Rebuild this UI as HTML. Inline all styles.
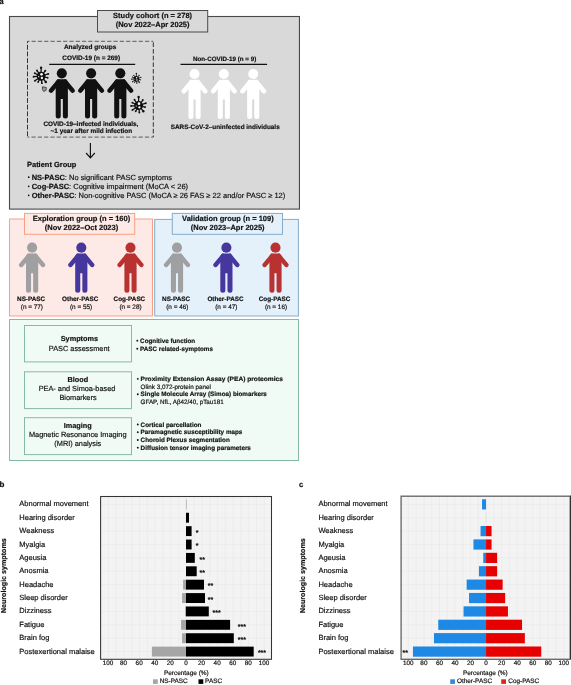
<!DOCTYPE html>
<html lang="en"><head><meta charset="utf-8"><title>Study cohort figure</title>
<style>html,body{margin:0;padding:0;background:#fff;overflow:hidden}svg{display:block}text{font-family:"Liberation Sans",Arial,Helvetica,sans-serif;text-rendering:geometricPrecision;stroke:#111;stroke-width:0.18px}</style></head><body>
<svg width="571" height="685" viewBox="0 0 571 685">
<rect width="571" height="685" fill="#fff"/>
<text x="-0.7" y="3.9" font-size="8" font-weight="bold" fill="#111">a</text>
<rect x="9.5" y="16.5" width="289.95" height="192.6" fill="#d9d9d9" stroke="#4a4a4a" stroke-width="1.1"/>
<rect x="97.5" y="10.5" width="110.2" height="21.5" fill="#d9d9d9" stroke="#4a4a4a" stroke-width="1"/>
<text x="152.6" y="18.4" font-size="7.5" font-weight="bold" text-anchor="middle" fill="#111">Study cohort (n = 278)</text>
<text x="152.6" y="27.4" font-size="7.5" font-weight="bold" text-anchor="middle" fill="#111">(Nov 2022–Apr 2025)</text>
<g fill="none" stroke-width="1"><path d="M27.5,41.3 H153.3" stroke="#5c5c5c" stroke-dasharray="4.2 2.1" stroke-dashoffset="2.2"/><path d="M153.3,137.1 H27.5" stroke="#5c5c5c" stroke-dasharray="4.2 2.1" stroke-dashoffset="2.1"/><path d="M27.5,41.3 V137.1" stroke="#333" stroke-dasharray="4.9 1.75" stroke-dashoffset="3.1"/><path d="M153.3,41.3 V137.1" stroke="#333" stroke-dasharray="4.6 2.05" stroke-dashoffset="5.55"/></g>
<text x="90.1" y="48.5" font-size="6.5" font-weight="bold" text-anchor="middle" fill="#111">Analyzed groups</text>
<text x="91.2" y="59.6" font-size="6.45" font-weight="bold" text-anchor="middle" fill="#111">COVID-19 (n = 269)</text>
<line x1="49.2" y1="64.4" x2="135.2" y2="64.4" stroke="#111" stroke-width="1.1"/>
<g transform="translate(61.8,68.3) scale(1.0)" fill="#111" stroke="none"><circle cx="0" cy="5.05" r="5.05"/><path d="M-6.1,13.4 L-4.3,10.9 L4.3,10.9 L6.1,13.4 L6.1,47.75 A2.525,2.525 0 0 1 1.05,47.75 L1.05,30.6 L-1.05,30.6 L-1.05,47.75 A2.525,2.525 0 0 1 -6.1,47.75 Z"/><path d="M-3.3,13.3 L-10.8,22.3 M3.3,13.3 L10.8,22.3" stroke="#111" stroke-width="4.6" stroke-linecap="round" fill="none"/></g>
<g transform="translate(91.1,68.3) scale(1.0)" fill="#111" stroke="none"><circle cx="0" cy="5.05" r="5.05"/><path d="M-6.1,13.4 L-4.3,10.9 L4.3,10.9 L6.1,13.4 L6.1,47.75 A2.525,2.525 0 0 1 1.05,47.75 L1.05,30.6 L-1.05,30.6 L-1.05,47.75 A2.525,2.525 0 0 1 -6.1,47.75 Z"/><path d="M-3.3,13.3 L-10.8,22.3 M3.3,13.3 L10.8,22.3" stroke="#111" stroke-width="4.6" stroke-linecap="round" fill="none"/></g>
<g transform="translate(120.3,68.3) scale(1.0)" fill="#111" stroke="none"><circle cx="0" cy="5.05" r="5.05"/><path d="M-6.1,13.4 L-4.3,10.9 L4.3,10.9 L6.1,13.4 L6.1,47.75 A2.525,2.525 0 0 1 1.05,47.75 L1.05,30.6 L-1.05,30.6 L-1.05,47.75 A2.525,2.525 0 0 1 -6.1,47.75 Z"/><path d="M-3.3,13.3 L-10.8,22.3 M3.3,13.3 L10.8,22.3" stroke="#111" stroke-width="4.6" stroke-linecap="round" fill="none"/></g>
<g transform="translate(41.1,76.3) scale(1.0)" fill="#111" stroke="#111"><circle r="4.5" stroke="none"/><line x1="0.00" y1="-3.20" x2="0.00" y2="-8.60" stroke-width="1.25"/><circle cx="0.00" cy="-8.60" r="1.2" stroke="none"/><line x1="1.93" y1="-2.56" x2="4.21" y2="-5.59" stroke-width="1.25"/><circle cx="4.21" cy="-5.59" r="0.95" stroke="none"/><line x1="3.03" y1="-1.02" x2="7.20" y2="-2.42" stroke-width="1.25"/><circle cx="7.20" cy="-2.42" r="0.95" stroke="none"/><line x1="3.12" y1="0.70" x2="6.54" y2="1.46" stroke-width="1.25"/><circle cx="6.54" cy="1.46" r="0.9" stroke="none"/><line x1="2.06" y1="2.45" x2="4.69" y2="5.59" stroke-width="1.25"/><circle cx="4.69" cy="5.59" r="1.25" stroke="none"/><line x1="0.36" y1="3.18" x2="0.77" y2="6.86" stroke-width="1.25"/><circle cx="0.77" cy="6.86" r="0.95" stroke="none"/><line x1="-1.45" y1="2.85" x2="-2.91" y2="5.70" stroke-width="1.25"/><circle cx="-2.91" cy="5.70" r="0.9" stroke="none"/><line x1="-2.58" y1="1.89" x2="-6.13" y2="4.50" stroke-width="1.25"/><circle cx="-6.13" cy="4.50" r="1.0" stroke="none"/><line x1="-3.20" y1="0.17" x2="-7.49" y2="0.39" stroke-width="1.25"/><circle cx="-7.49" cy="0.39" r="1.0" stroke="none"/><line x1="-2.89" y1="-1.37" x2="-6.32" y2="-3.00" stroke-width="1.25"/><circle cx="-6.32" cy="-3.00" r="0.95" stroke="none"/><line x1="-1.86" y1="-2.61" x2="-4.12" y2="-5.78" stroke-width="1.25"/><circle cx="-4.12" cy="-5.78" r="0.95" stroke="none"/><circle cx="0.42" cy="-1.95" r="1.3" fill="#fff" stroke="none"/><circle cx="0.8" cy="1.7" r="1.15" fill="#fff" stroke="none"/><circle cx="-2.4" cy="0.4" r="0.6" fill="#fff" stroke="none"/></g>
<g transform="translate(136.4,78.9) scale(0.62)" fill="#111" stroke="#111"><circle r="4.5" stroke="none"/><line x1="0.00" y1="-3.20" x2="0.00" y2="-8.60" stroke-width="1.25"/><circle cx="0.00" cy="-8.60" r="1.2" stroke="none"/><line x1="1.93" y1="-2.56" x2="4.21" y2="-5.59" stroke-width="1.25"/><circle cx="4.21" cy="-5.59" r="0.95" stroke="none"/><line x1="3.03" y1="-1.02" x2="7.20" y2="-2.42" stroke-width="1.25"/><circle cx="7.20" cy="-2.42" r="0.95" stroke="none"/><line x1="3.12" y1="0.70" x2="6.54" y2="1.46" stroke-width="1.25"/><circle cx="6.54" cy="1.46" r="0.9" stroke="none"/><line x1="2.06" y1="2.45" x2="4.69" y2="5.59" stroke-width="1.25"/><circle cx="4.69" cy="5.59" r="1.25" stroke="none"/><line x1="0.36" y1="3.18" x2="0.77" y2="6.86" stroke-width="1.25"/><circle cx="0.77" cy="6.86" r="0.95" stroke="none"/><line x1="-1.45" y1="2.85" x2="-2.91" y2="5.70" stroke-width="1.25"/><circle cx="-2.91" cy="5.70" r="0.9" stroke="none"/><line x1="-2.58" y1="1.89" x2="-6.13" y2="4.50" stroke-width="1.25"/><circle cx="-6.13" cy="4.50" r="1.0" stroke="none"/><line x1="-3.20" y1="0.17" x2="-7.49" y2="0.39" stroke-width="1.25"/><circle cx="-7.49" cy="0.39" r="1.0" stroke="none"/><line x1="-2.89" y1="-1.37" x2="-6.32" y2="-3.00" stroke-width="1.25"/><circle cx="-6.32" cy="-3.00" r="0.95" stroke="none"/><line x1="-1.86" y1="-2.61" x2="-4.12" y2="-5.78" stroke-width="1.25"/><circle cx="-4.12" cy="-5.78" r="0.95" stroke="none"/><circle cx="0.42" cy="-1.95" r="1.3" fill="#fff" stroke="none"/><circle cx="0.8" cy="1.7" r="1.15" fill="#fff" stroke="none"/><circle cx="-2.4" cy="0.4" r="0.6" fill="#fff" stroke="none"/></g>
<g transform="translate(138.6,105.6) scale(1.0)" fill="#111" stroke="#111"><circle r="4.5" stroke="none"/><line x1="0.00" y1="-3.20" x2="0.00" y2="-8.60" stroke-width="1.25"/><circle cx="0.00" cy="-8.60" r="1.2" stroke="none"/><line x1="1.93" y1="-2.56" x2="4.21" y2="-5.59" stroke-width="1.25"/><circle cx="4.21" cy="-5.59" r="0.95" stroke="none"/><line x1="3.03" y1="-1.02" x2="7.20" y2="-2.42" stroke-width="1.25"/><circle cx="7.20" cy="-2.42" r="0.95" stroke="none"/><line x1="3.12" y1="0.70" x2="6.54" y2="1.46" stroke-width="1.25"/><circle cx="6.54" cy="1.46" r="0.9" stroke="none"/><line x1="2.06" y1="2.45" x2="4.69" y2="5.59" stroke-width="1.25"/><circle cx="4.69" cy="5.59" r="1.25" stroke="none"/><line x1="0.36" y1="3.18" x2="0.77" y2="6.86" stroke-width="1.25"/><circle cx="0.77" cy="6.86" r="0.95" stroke="none"/><line x1="-1.45" y1="2.85" x2="-2.91" y2="5.70" stroke-width="1.25"/><circle cx="-2.91" cy="5.70" r="0.9" stroke="none"/><line x1="-2.58" y1="1.89" x2="-6.13" y2="4.50" stroke-width="1.25"/><circle cx="-6.13" cy="4.50" r="1.0" stroke="none"/><line x1="-3.20" y1="0.17" x2="-7.49" y2="0.39" stroke-width="1.25"/><circle cx="-7.49" cy="0.39" r="1.0" stroke="none"/><line x1="-2.89" y1="-1.37" x2="-6.32" y2="-3.00" stroke-width="1.25"/><circle cx="-6.32" cy="-3.00" r="0.95" stroke="none"/><line x1="-1.86" y1="-2.61" x2="-4.12" y2="-5.78" stroke-width="1.25"/><circle cx="-4.12" cy="-5.78" r="0.95" stroke="none"/><circle cx="0.42" cy="-1.95" r="1.3" fill="#fff" stroke="none"/><circle cx="0.8" cy="1.7" r="1.15" fill="#fff" stroke="none"/><circle cx="-2.4" cy="0.4" r="0.6" fill="#fff" stroke="none"/></g>
<path d="M42.4,86.8 L46.3,87.5 L46.1,90.3 L43.7,91.5 L42.5,89.7 Z" fill="#9a9a9a" stroke="#3c3c3c" stroke-width="0.85" stroke-linejoin="round"/>
<text x="90.9" y="125.5" font-size="6.43" font-weight="bold" text-anchor="middle" fill="#111">COVID-19–infected individuals,</text>
<text x="91.4" y="133.3" font-size="6.43" font-weight="bold" text-anchor="middle" fill="#111">~1 year after mild infection</text>
<text x="224.6" y="60.9" font-size="6.25" font-weight="bold" text-anchor="middle" fill="#111">Non-COVID-19 (n = 9)</text>
<line x1="180.5" y1="64.4" x2="267.1" y2="64.4" stroke="#111" stroke-width="1.1"/>
<g transform="translate(194.55,68.95) scale(0.996)" fill="#fff" stroke="none"><circle cx="0" cy="5.05" r="5.05"/><path d="M-6.1,13.4 L-4.3,10.9 L4.3,10.9 L6.1,13.4 L6.1,47.75 A2.525,2.525 0 0 1 1.05,47.75 L1.05,30.6 L-1.05,30.6 L-1.05,47.75 A2.525,2.525 0 0 1 -6.1,47.75 Z"/><path d="M-3.3,13.3 L-10.8,22.3 M3.3,13.3 L10.8,22.3" stroke="#fff" stroke-width="4.6" stroke-linecap="round" fill="none"/></g>
<g transform="translate(223.85,68.95) scale(0.996)" fill="#fff" stroke="none"><circle cx="0" cy="5.05" r="5.05"/><path d="M-6.1,13.4 L-4.3,10.9 L4.3,10.9 L6.1,13.4 L6.1,47.75 A2.525,2.525 0 0 1 1.05,47.75 L1.05,30.6 L-1.05,30.6 L-1.05,47.75 A2.525,2.525 0 0 1 -6.1,47.75 Z"/><path d="M-3.3,13.3 L-10.8,22.3 M3.3,13.3 L10.8,22.3" stroke="#fff" stroke-width="4.6" stroke-linecap="round" fill="none"/></g>
<g transform="translate(253.2,68.95) scale(0.996)" fill="#fff" stroke="none"><circle cx="0" cy="5.05" r="5.05"/><path d="M-6.1,13.4 L-4.3,10.9 L4.3,10.9 L6.1,13.4 L6.1,47.75 A2.525,2.525 0 0 1 1.05,47.75 L1.05,30.6 L-1.05,30.6 L-1.05,47.75 A2.525,2.525 0 0 1 -6.1,47.75 Z"/><path d="M-3.3,13.3 L-10.8,22.3 M3.3,13.3 L10.8,22.3" stroke="#fff" stroke-width="4.6" stroke-linecap="round" fill="none"/></g>
<text x="225.2" y="129.3" font-size="6.4" font-weight="bold" text-anchor="middle" fill="#111">SARS-CoV-2–uninfected individuals</text>
<path d="M90.4,142.9 L90.4,157.6 M86.1,153.0 L90.4,157.9 L94.8,153.0" fill="none" stroke="#111" stroke-width="1.15" stroke-linejoin="miter"/>
<text x="27" y="166.8" font-size="7.48" font-weight="bold" fill="#111">Patient Group</text>
<circle cx="28.7" cy="177.2" r="0.85" fill="#111"/>
<text x="31.7" y="179.7" font-size="7.5" fill="#111" textLength="140.3" lengthAdjust="spacingAndGlyphs"><tspan font-weight="bold">NS-PASC</tspan>: No significant PASC symptoms</text>
<circle cx="28.7" cy="186.3" r="0.85" fill="#111"/>
<text x="31.7" y="188.8" font-size="7.5" fill="#111" textLength="156.4" lengthAdjust="spacingAndGlyphs"><tspan font-weight="bold">Cog-PASC</tspan>: Cognitive impairment (MoCA &lt; 26)</text>
<circle cx="28.7" cy="195.3" r="0.85" fill="#111"/>
<text x="31.7" y="197.8" font-size="7.5" fill="#111" textLength="253.6" lengthAdjust="spacingAndGlyphs"><tspan font-weight="bold">Other-PASC</tspan>: Non-cognitive PASC (MoCA ≥ 26 FAS ≥ 22 and/or PASC ≥ 12)</text>
<rect x="9.5" y="219.0" width="143" height="97.0" fill="#fde9e5" stroke="#fa9f83" stroke-width="1"/>
<rect x="24.5" y="213.4" width="110.2" height="20.9" fill="#fde9e5" stroke="#fa9f83" stroke-width="1"/>
<text x="81.5" y="220.8" font-size="7.5" font-weight="bold" text-anchor="middle" fill="#111">Exploration group (n = 160)</text>
<text x="81.5" y="229.8" font-size="7.5" font-weight="bold" text-anchor="middle" fill="#111">(Nov 2022–Oct 2023)</text>
<rect x="154.7" y="219.4" width="143.7" height="96.6" fill="#e4f1fb" stroke="#86acc9" stroke-width="1"/>
<rect x="172.3" y="213.4" width="110.2" height="20.9" fill="#e4f1fb" stroke="#86acc9" stroke-width="1"/>
<text x="227.9" y="220.8" font-size="7.52" font-weight="bold" text-anchor="middle" fill="#111">Validation group (n = 109)</text>
<text x="227.7" y="229.8" font-size="7.5" font-weight="bold" text-anchor="middle" fill="#111">(Nov 2023–Apr 2025)</text>
<g transform="translate(32.1,242.6) scale(1.0)" fill="#a09fa2" stroke="none"><circle cx="0" cy="5.05" r="5.05"/><path d="M-6.1,13.4 L-4.3,10.9 L4.3,10.9 L6.1,13.4 L6.1,47.75 A2.525,2.525 0 0 1 1.05,47.75 L1.05,30.6 L-1.05,30.6 L-1.05,47.75 A2.525,2.525 0 0 1 -6.1,47.75 Z"/><path d="M-3.3,13.3 L-10.8,22.3 M3.3,13.3 L10.8,22.3" stroke="#a09fa2" stroke-width="4.6" stroke-linecap="round" fill="none"/></g>
<g transform="translate(81.3,242.6) scale(1.0)" fill="#46379f" stroke="none"><circle cx="0" cy="5.05" r="5.05"/><path d="M-6.1,13.4 L-4.3,10.9 L4.3,10.9 L6.1,13.4 L6.1,47.75 A2.525,2.525 0 0 1 1.05,47.75 L1.05,30.6 L-1.05,30.6 L-1.05,47.75 A2.525,2.525 0 0 1 -6.1,47.75 Z"/><path d="M-3.3,13.3 L-10.8,22.3 M3.3,13.3 L10.8,22.3" stroke="#46379f" stroke-width="4.6" stroke-linecap="round" fill="none"/></g>
<g transform="translate(130.5,242.6) scale(1.0)" fill="#b83232" stroke="none"><circle cx="0" cy="5.05" r="5.05"/><path d="M-6.1,13.4 L-4.3,10.9 L4.3,10.9 L6.1,13.4 L6.1,47.75 A2.525,2.525 0 0 1 1.05,47.75 L1.05,30.6 L-1.05,30.6 L-1.05,47.75 A2.525,2.525 0 0 1 -6.1,47.75 Z"/><path d="M-3.3,13.3 L-10.8,22.3 M3.3,13.3 L10.8,22.3" stroke="#b83232" stroke-width="4.6" stroke-linecap="round" fill="none"/></g>
<g transform="translate(177.0,242.6) scale(1.0)" fill="#a09fa2" stroke="none"><circle cx="0" cy="5.05" r="5.05"/><path d="M-6.1,13.4 L-4.3,10.9 L4.3,10.9 L6.1,13.4 L6.1,47.75 A2.525,2.525 0 0 1 1.05,47.75 L1.05,30.6 L-1.05,30.6 L-1.05,47.75 A2.525,2.525 0 0 1 -6.1,47.75 Z"/><path d="M-3.3,13.3 L-10.8,22.3 M3.3,13.3 L10.8,22.3" stroke="#a09fa2" stroke-width="4.6" stroke-linecap="round" fill="none"/></g>
<g transform="translate(226.4,242.6) scale(1.0)" fill="#46379f" stroke="none"><circle cx="0" cy="5.05" r="5.05"/><path d="M-6.1,13.4 L-4.3,10.9 L4.3,10.9 L6.1,13.4 L6.1,47.75 A2.525,2.525 0 0 1 1.05,47.75 L1.05,30.6 L-1.05,30.6 L-1.05,47.75 A2.525,2.525 0 0 1 -6.1,47.75 Z"/><path d="M-3.3,13.3 L-10.8,22.3 M3.3,13.3 L10.8,22.3" stroke="#46379f" stroke-width="4.6" stroke-linecap="round" fill="none"/></g>
<g transform="translate(275.5,242.6) scale(1.0)" fill="#b83232" stroke="none"><circle cx="0" cy="5.05" r="5.05"/><path d="M-6.1,13.4 L-4.3,10.9 L4.3,10.9 L6.1,13.4 L6.1,47.75 A2.525,2.525 0 0 1 1.05,47.75 L1.05,30.6 L-1.05,30.6 L-1.05,47.75 A2.525,2.525 0 0 1 -6.1,47.75 Z"/><path d="M-3.3,13.3 L-10.8,22.3 M3.3,13.3 L10.8,22.3" stroke="#b83232" stroke-width="4.6" stroke-linecap="round" fill="none"/></g>
<text x="31.1" y="300.9" font-size="6.35" font-weight="bold" text-anchor="middle" fill="#111">NS-PASC</text>
<text x="31.9" y="308.8" font-size="6.4" text-anchor="middle" fill="#111">(n = 77)</text>
<text x="80.2" y="300.9" font-size="6.35" font-weight="bold" text-anchor="middle" fill="#111">Other-PASC</text>
<text x="81.1" y="308.8" font-size="6.4" text-anchor="middle" fill="#111">(n = 55)</text>
<text x="129.4" y="300.9" font-size="6.35" font-weight="bold" text-anchor="middle" fill="#111">Cog-PASC</text>
<text x="130.5" y="308.8" font-size="6.4" text-anchor="middle" fill="#111">(n = 28)</text>
<text x="176.1" y="300.9" font-size="6.35" font-weight="bold" text-anchor="middle" fill="#111">NS-PASC</text>
<text x="177.3" y="308.8" font-size="6.4" text-anchor="middle" fill="#111">(n = 46)</text>
<text x="225.5" y="300.9" font-size="6.35" font-weight="bold" text-anchor="middle" fill="#111">Other-PASC</text>
<text x="226.3" y="308.8" font-size="6.4" text-anchor="middle" fill="#111">(n = 47)</text>
<text x="274.6" y="300.9" font-size="6.35" font-weight="bold" text-anchor="middle" fill="#111">Cog-PASC</text>
<text x="276.0" y="308.8" font-size="6.4" text-anchor="middle" fill="#111">(n = 16)</text>
<rect x="9.5" y="319.5" width="289" height="141" fill="#f1fbf6" stroke="#85baa4" stroke-width="1"/>
<rect x="24.5" y="325.5" width="107" height="36.4" fill="#f1fbf6" stroke="#85baa4" stroke-width="1"/>
<rect x="24.5" y="371.8" width="107" height="36.8" fill="#f1fbf6" stroke="#85baa4" stroke-width="1"/>
<rect x="24.5" y="417.7" width="107" height="36.9" fill="#f1fbf6" stroke="#85baa4" stroke-width="1"/>
<text x="79.4" y="341.4" font-size="7.3" font-weight="bold" text-anchor="middle" fill="#111">Symptoms</text>
<text x="79.2" y="350.5" font-size="7.35" text-anchor="middle" fill="#111">PASC assessment</text>
<text x="77.9" y="381.9" font-size="7.3" font-weight="bold" text-anchor="middle" fill="#111">Blood</text>
<text x="77" y="390.6" font-size="7.35" text-anchor="middle" fill="#111">PEA- and Simoa-based</text>
<text x="78" y="399.5" font-size="7.35" text-anchor="middle" fill="#111">Biomarkers</text>
<text x="77.8" y="427.5" font-size="7.3" font-weight="bold" text-anchor="middle" fill="#111">Imaging</text>
<text x="77.7" y="436.85" font-size="7.38" text-anchor="middle" fill="#111">Magnetic Resonance Imaging</text>
<text x="77.8" y="445.6" font-size="7.35" text-anchor="middle" fill="#111">(MRI) analysis</text>
<circle cx="137.3" cy="340.65" r="0.95" fill="#111"/>
<text x="140.1" y="342.8" font-size="6.3" font-weight="bold" textLength="55.1" lengthAdjust="spacingAndGlyphs" fill="#111">Cognitive function</text>
<circle cx="137.3" cy="348.75" r="0.95" fill="#111"/>
<text x="140.1" y="350.9" font-size="6.3" font-weight="bold" textLength="72.8" lengthAdjust="spacingAndGlyphs" fill="#111">PASC related-symptoms</text>
<circle cx="137.8" cy="378.85" r="0.95" fill="#111"/>
<text x="140.6" y="381.0" font-size="6.3" font-weight="bold" textLength="142.4" lengthAdjust="spacingAndGlyphs" fill="#111">Proximity Extension Assay (PEA) proteomics</text>
<text x="140.6" y="388.6" font-size="6.3" textLength="70.3" lengthAdjust="spacingAndGlyphs" fill="#111">Olink 3,072-protein panel</text>
<circle cx="137.8" cy="394.25" r="0.95" fill="#111"/>
<text x="140.6" y="396.4" font-size="6.3" font-weight="bold" textLength="126.3" lengthAdjust="spacingAndGlyphs" fill="#111">Single Molecule Array (Simoa) biomarkers</text>
<text x="140.6" y="404.1" font-size="6.3" textLength="83.2" lengthAdjust="spacingAndGlyphs" fill="#111">GFAP, NfL, Aβ42/40, pTau181</text>
<circle cx="137.8" cy="424.45" r="0.95" fill="#111"/>
<text x="140.6" y="426.6" font-size="6.3" font-weight="bold" textLength="60.8" lengthAdjust="spacingAndGlyphs" fill="#111">Cortical parcellation</text>
<circle cx="137.8" cy="432.15" r="0.95" fill="#111"/>
<text x="140.6" y="434.3" font-size="6.3" font-weight="bold" textLength="101.8" lengthAdjust="spacingAndGlyphs" fill="#111">Paramagnetic susceptibility maps</text>
<circle cx="137.8" cy="439.95" r="0.95" fill="#111"/>
<text x="140.6" y="442.1" font-size="6.3" font-weight="bold" textLength="89.2" lengthAdjust="spacingAndGlyphs" fill="#111">Choroid Plexus segmentation</text>
<circle cx="137.8" cy="447.65" r="0.95" fill="#111"/>
<text x="140.6" y="449.8" font-size="6.3" font-weight="bold" textLength="110.3" lengthAdjust="spacingAndGlyphs" fill="#111">Diffusion tensor imaging parameters</text>
<text x="-0.6" y="486.7" font-size="8" font-weight="bold" fill="#111">b</text>
<rect x="100.6" y="496.5" width="170.90" height="162.8" fill="#f3f3f3"/>
<line x1="108.50" y1="496.5" x2="108.50" y2="659.3" stroke="#e7e7e7" stroke-width="0.55"/>
<line x1="116.29" y1="496.5" x2="116.29" y2="659.3" stroke="#e7e7e7" stroke-width="0.55"/>
<line x1="124.08" y1="496.5" x2="124.08" y2="659.3" stroke="#e7e7e7" stroke-width="0.55"/>
<line x1="131.87" y1="496.5" x2="131.87" y2="659.3" stroke="#e7e7e7" stroke-width="0.55"/>
<line x1="139.66" y1="496.5" x2="139.66" y2="659.3" stroke="#e7e7e7" stroke-width="0.55"/>
<line x1="147.45" y1="496.5" x2="147.45" y2="659.3" stroke="#e7e7e7" stroke-width="0.55"/>
<line x1="155.24" y1="496.5" x2="155.24" y2="659.3" stroke="#e7e7e7" stroke-width="0.55"/>
<line x1="163.03" y1="496.5" x2="163.03" y2="659.3" stroke="#e7e7e7" stroke-width="0.55"/>
<line x1="170.82" y1="496.5" x2="170.82" y2="659.3" stroke="#e7e7e7" stroke-width="0.55"/>
<line x1="178.61" y1="496.5" x2="178.61" y2="659.3" stroke="#e7e7e7" stroke-width="0.55"/>
<line x1="186.40" y1="496.5" x2="186.40" y2="659.3" stroke="#e7e7e7" stroke-width="0.55"/>
<line x1="194.19" y1="496.5" x2="194.19" y2="659.3" stroke="#e7e7e7" stroke-width="0.55"/>
<line x1="201.98" y1="496.5" x2="201.98" y2="659.3" stroke="#e7e7e7" stroke-width="0.55"/>
<line x1="209.77" y1="496.5" x2="209.77" y2="659.3" stroke="#e7e7e7" stroke-width="0.55"/>
<line x1="217.56" y1="496.5" x2="217.56" y2="659.3" stroke="#e7e7e7" stroke-width="0.55"/>
<line x1="225.35" y1="496.5" x2="225.35" y2="659.3" stroke="#e7e7e7" stroke-width="0.55"/>
<line x1="233.14" y1="496.5" x2="233.14" y2="659.3" stroke="#e7e7e7" stroke-width="0.55"/>
<line x1="240.93" y1="496.5" x2="240.93" y2="659.3" stroke="#e7e7e7" stroke-width="0.55"/>
<line x1="248.72" y1="496.5" x2="248.72" y2="659.3" stroke="#e7e7e7" stroke-width="0.55"/>
<line x1="256.51" y1="496.5" x2="256.51" y2="659.3" stroke="#e7e7e7" stroke-width="0.55"/>
<line x1="264.30" y1="496.5" x2="264.30" y2="659.3" stroke="#e7e7e7" stroke-width="0.55"/>
<line x1="100.6" y1="504.35" x2="271.5" y2="504.35" stroke="#e7e7e7" stroke-width="0.55"/>
<line x1="100.6" y1="517.74" x2="271.5" y2="517.74" stroke="#e7e7e7" stroke-width="0.55"/>
<line x1="100.6" y1="531.12" x2="271.5" y2="531.12" stroke="#e7e7e7" stroke-width="0.55"/>
<line x1="100.6" y1="544.50" x2="271.5" y2="544.50" stroke="#e7e7e7" stroke-width="0.55"/>
<line x1="100.6" y1="557.89" x2="271.5" y2="557.89" stroke="#e7e7e7" stroke-width="0.55"/>
<line x1="100.6" y1="571.27" x2="271.5" y2="571.27" stroke="#e7e7e7" stroke-width="0.55"/>
<line x1="100.6" y1="584.66" x2="271.5" y2="584.66" stroke="#e7e7e7" stroke-width="0.55"/>
<line x1="100.6" y1="598.05" x2="271.5" y2="598.05" stroke="#e7e7e7" stroke-width="0.55"/>
<line x1="100.6" y1="611.43" x2="271.5" y2="611.43" stroke="#e7e7e7" stroke-width="0.55"/>
<line x1="100.6" y1="624.82" x2="271.5" y2="624.82" stroke="#e7e7e7" stroke-width="0.55"/>
<line x1="100.6" y1="638.20" x2="271.5" y2="638.20" stroke="#e7e7e7" stroke-width="0.55"/>
<line x1="100.6" y1="651.59" x2="271.5" y2="651.59" stroke="#e7e7e7" stroke-width="0.55"/>
<line x1="186.4" y1="499.40" x2="186.4" y2="509.30" stroke="#8a8a8a" stroke-width="0.5"/>
<rect x="186.00" y="512.78" width="3.00" height="9.9" fill="#000"/>
<rect x="186.00" y="526.17" width="5.60" height="9.9" fill="#000"/>
<rect x="186.00" y="539.55" width="5.60" height="9.9" fill="#000"/>
<rect x="186.00" y="552.94" width="8.80" height="9.9" fill="#000"/>
<rect x="186.00" y="566.32" width="10.70" height="9.9" fill="#000"/>
<rect x="183.10" y="579.71" width="2.90" height="9.9" fill="#a6a6a6"/>
<rect x="186.00" y="579.71" width="18.00" height="9.9" fill="#000"/>
<rect x="182.10" y="593.10" width="3.90" height="9.9" fill="#a6a6a6"/>
<rect x="186.00" y="593.10" width="19.00" height="9.9" fill="#000"/>
<rect x="185.10" y="606.48" width="0.90" height="9.9" fill="#a6a6a6"/>
<rect x="186.00" y="606.48" width="22.80" height="9.9" fill="#000"/>
<rect x="181.10" y="619.87" width="4.90" height="9.9" fill="#a6a6a6"/>
<rect x="186.00" y="619.87" width="44.10" height="9.9" fill="#000"/>
<rect x="182.10" y="633.25" width="3.90" height="9.9" fill="#a6a6a6"/>
<rect x="186.00" y="633.25" width="47.80" height="9.9" fill="#000"/>
<rect x="151.90" y="646.63" width="34.10" height="9.9" fill="#a6a6a6"/>
<rect x="186.00" y="646.63" width="67.70" height="9.9" fill="#000"/>
<rect x="100.6" y="496.5" width="170.90" height="162.8" fill="none" stroke="#333" stroke-width="1.05"/>
<text x="19.3" y="506.35" font-size="7.5" fill="#111">Abnormal movement</text>
<text x="19.3" y="519.74" font-size="7.5" fill="#111">Hearing disorder</text>
<text x="19.3" y="533.12" font-size="7.5" fill="#111">Weakness</text>
<text x="19.3" y="546.5" font-size="7.5" fill="#111">Myalgia</text>
<text x="19.3" y="559.89" font-size="7.5" fill="#111">Ageusia</text>
<text x="19.3" y="573.27" font-size="7.5" fill="#111">Anosmia</text>
<text x="19.3" y="586.66" font-size="7.5" fill="#111">Headache</text>
<text x="19.3" y="600.05" font-size="7.5" fill="#111">Sleep disorder</text>
<text x="19.3" y="613.43" font-size="7.5" fill="#111">Dizziness</text>
<text x="19.3" y="626.82" font-size="7.5" fill="#111">Fatigue</text>
<text x="19.3" y="640.2" font-size="7.5" fill="#111">Brain fog</text>
<text x="19.3" y="653.59" font-size="7.5" fill="#111">Postexertional malaise</text>
<text x="107.95" y="665.25" font-size="6.35" text-anchor="middle" fill="#111">100</text>
<text x="123.55" y="665.25" font-size="6.35" text-anchor="middle" fill="#111">80</text>
<text x="139.15" y="665.25" font-size="6.35" text-anchor="middle" fill="#111">60</text>
<text x="154.75" y="665.25" font-size="6.35" text-anchor="middle" fill="#111">40</text>
<text x="170.35" y="665.25" font-size="6.35" text-anchor="middle" fill="#111">20</text>
<text x="185.95" y="665.25" font-size="6.35" text-anchor="middle" fill="#111">0</text>
<text x="201.55" y="665.25" font-size="6.35" text-anchor="middle" fill="#111">20</text>
<text x="217.15" y="665.25" font-size="6.35" text-anchor="middle" fill="#111">40</text>
<text x="232.75" y="665.25" font-size="6.35" text-anchor="middle" fill="#111">60</text>
<text x="248.35" y="665.25" font-size="6.35" text-anchor="middle" fill="#111">80</text>
<text x="263.95" y="665.25" font-size="6.35" text-anchor="middle" fill="#111">100</text>
<text x="186.3" y="674.9" font-size="6.45" text-anchor="middle" fill="#111">Percentage (%)</text>
<text transform="translate(5.8,575.7) rotate(-90)" font-size="7.15" font-weight="bold" text-anchor="middle" fill="#111">Neurologic symptoms</text>
<text x="195.7" y="534.82" font-size="7.0" fill="#111" style="stroke-width:0.3px">*</text>
<text x="195.7" y="548.21" font-size="7.0" fill="#111" style="stroke-width:0.3px">*</text>
<text x="199.6" y="561.59" font-size="7.0" fill="#111" style="stroke-width:0.3px">**</text>
<text x="199.6" y="574.98" font-size="7.0" fill="#111" style="stroke-width:0.3px">**</text>
<text x="207.7" y="588.36" font-size="7.0" fill="#111" style="stroke-width:0.3px">**</text>
<text x="207.7" y="601.75" font-size="7.0" fill="#111" style="stroke-width:0.3px">**</text>
<text x="212.6" y="615.13" font-size="7.0" fill="#111" style="stroke-width:0.3px">***</text>
<text x="237.8" y="628.52" font-size="7.0" fill="#111" style="stroke-width:0.3px">***</text>
<text x="237.8" y="641.9" font-size="7.0" fill="#111" style="stroke-width:0.3px">***</text>
<text x="257.9" y="655.29" font-size="7.0" fill="#111" style="stroke-width:0.3px">***</text>
<rect x="153.0" y="679.3" width="4.8" height="4.6" fill="#a6a6a6"/>
<text x="159.7" y="683.4" font-size="6.4" fill="#111">NS-PASC</text>
<rect x="198.5" y="679.3" width="4.8" height="4.6" fill="#000"/>
<text x="205.1" y="683.4" font-size="6.4" fill="#111">PASC</text>
<text x="298.9" y="486.9" font-size="7.7" font-weight="bold" fill="#111">c</text>
<rect x="401.1" y="496.2" width="169.10" height="163.1" fill="#f3f3f3"/>
<line x1="408.40" y1="496.2" x2="408.40" y2="659.3" stroke="#e7e7e7" stroke-width="0.55"/>
<line x1="416.17" y1="496.2" x2="416.17" y2="659.3" stroke="#e7e7e7" stroke-width="0.55"/>
<line x1="423.93" y1="496.2" x2="423.93" y2="659.3" stroke="#e7e7e7" stroke-width="0.55"/>
<line x1="431.69" y1="496.2" x2="431.69" y2="659.3" stroke="#e7e7e7" stroke-width="0.55"/>
<line x1="439.46" y1="496.2" x2="439.46" y2="659.3" stroke="#e7e7e7" stroke-width="0.55"/>
<line x1="447.23" y1="496.2" x2="447.23" y2="659.3" stroke="#e7e7e7" stroke-width="0.55"/>
<line x1="454.99" y1="496.2" x2="454.99" y2="659.3" stroke="#e7e7e7" stroke-width="0.55"/>
<line x1="462.75" y1="496.2" x2="462.75" y2="659.3" stroke="#e7e7e7" stroke-width="0.55"/>
<line x1="470.52" y1="496.2" x2="470.52" y2="659.3" stroke="#e7e7e7" stroke-width="0.55"/>
<line x1="478.29" y1="496.2" x2="478.29" y2="659.3" stroke="#e7e7e7" stroke-width="0.55"/>
<line x1="486.05" y1="496.2" x2="486.05" y2="659.3" stroke="#e7e7e7" stroke-width="0.55"/>
<line x1="493.81" y1="496.2" x2="493.81" y2="659.3" stroke="#e7e7e7" stroke-width="0.55"/>
<line x1="501.58" y1="496.2" x2="501.58" y2="659.3" stroke="#e7e7e7" stroke-width="0.55"/>
<line x1="509.35" y1="496.2" x2="509.35" y2="659.3" stroke="#e7e7e7" stroke-width="0.55"/>
<line x1="517.11" y1="496.2" x2="517.11" y2="659.3" stroke="#e7e7e7" stroke-width="0.55"/>
<line x1="524.88" y1="496.2" x2="524.88" y2="659.3" stroke="#e7e7e7" stroke-width="0.55"/>
<line x1="532.64" y1="496.2" x2="532.64" y2="659.3" stroke="#e7e7e7" stroke-width="0.55"/>
<line x1="540.40" y1="496.2" x2="540.40" y2="659.3" stroke="#e7e7e7" stroke-width="0.55"/>
<line x1="548.17" y1="496.2" x2="548.17" y2="659.3" stroke="#e7e7e7" stroke-width="0.55"/>
<line x1="555.93" y1="496.2" x2="555.93" y2="659.3" stroke="#e7e7e7" stroke-width="0.55"/>
<line x1="563.70" y1="496.2" x2="563.70" y2="659.3" stroke="#e7e7e7" stroke-width="0.55"/>
<line x1="401.1" y1="504.35" x2="570.2" y2="504.35" stroke="#e7e7e7" stroke-width="0.55"/>
<line x1="401.1" y1="517.74" x2="570.2" y2="517.74" stroke="#e7e7e7" stroke-width="0.55"/>
<line x1="401.1" y1="531.12" x2="570.2" y2="531.12" stroke="#e7e7e7" stroke-width="0.55"/>
<line x1="401.1" y1="544.50" x2="570.2" y2="544.50" stroke="#e7e7e7" stroke-width="0.55"/>
<line x1="401.1" y1="557.89" x2="570.2" y2="557.89" stroke="#e7e7e7" stroke-width="0.55"/>
<line x1="401.1" y1="571.27" x2="570.2" y2="571.27" stroke="#e7e7e7" stroke-width="0.55"/>
<line x1="401.1" y1="584.66" x2="570.2" y2="584.66" stroke="#e7e7e7" stroke-width="0.55"/>
<line x1="401.1" y1="598.05" x2="570.2" y2="598.05" stroke="#e7e7e7" stroke-width="0.55"/>
<line x1="401.1" y1="611.43" x2="570.2" y2="611.43" stroke="#e7e7e7" stroke-width="0.55"/>
<line x1="401.1" y1="624.82" x2="570.2" y2="624.82" stroke="#e7e7e7" stroke-width="0.55"/>
<line x1="401.1" y1="638.20" x2="570.2" y2="638.20" stroke="#e7e7e7" stroke-width="0.55"/>
<line x1="401.1" y1="651.59" x2="570.2" y2="651.59" stroke="#e7e7e7" stroke-width="0.55"/>
<rect x="482.05" y="499.25" width="4.00" height="10.2" fill="#1e88e5"/>
<line x1="486.05" y1="512.63" x2="486.05" y2="522.84" stroke="#d4d4d4" stroke-width="0.5"/>
<rect x="480.55" y="526.02" width="5.50" height="10.2" fill="#1e88e5"/>
<rect x="486.05" y="526.02" width="5.50" height="10.2" fill="#e60000"/>
<rect x="473.45" y="539.40" width="12.60" height="10.2" fill="#1e88e5"/>
<rect x="486.05" y="539.40" width="5.50" height="10.2" fill="#e60000"/>
<rect x="483.25" y="552.79" width="2.80" height="10.2" fill="#1e88e5"/>
<rect x="486.05" y="552.79" width="11.10" height="10.2" fill="#e60000"/>
<rect x="478.95" y="566.17" width="7.10" height="10.2" fill="#1e88e5"/>
<rect x="486.05" y="566.17" width="11.10" height="10.2" fill="#e60000"/>
<rect x="466.65" y="579.56" width="19.40" height="10.2" fill="#1e88e5"/>
<rect x="486.05" y="579.56" width="16.60" height="10.2" fill="#e60000"/>
<rect x="469.05" y="592.95" width="17.00" height="10.2" fill="#1e88e5"/>
<rect x="486.05" y="592.95" width="19.10" height="10.2" fill="#e60000"/>
<rect x="463.55" y="606.33" width="22.50" height="10.2" fill="#1e88e5"/>
<rect x="486.05" y="606.33" width="21.90" height="10.2" fill="#e60000"/>
<rect x="438.25" y="619.72" width="47.80" height="10.2" fill="#1e88e5"/>
<rect x="486.05" y="619.72" width="36.00" height="10.2" fill="#e60000"/>
<rect x="433.95" y="633.10" width="52.10" height="10.2" fill="#1e88e5"/>
<rect x="486.05" y="633.10" width="38.80" height="10.2" fill="#e60000"/>
<rect x="412.95" y="646.49" width="73.10" height="10.2" fill="#1e88e5"/>
<rect x="486.05" y="646.49" width="55.20" height="10.2" fill="#e60000"/>
<rect x="401.1" y="496.2" width="169.10" height="163.1" fill="none" stroke="#666" stroke-width="1.35"/>
<text x="318.4" y="506.35" font-size="7.5" fill="#111">Abnormal movement</text>
<text x="318.4" y="519.74" font-size="7.5" fill="#111">Hearing disorder</text>
<text x="318.4" y="533.12" font-size="7.5" fill="#111">Weakness</text>
<text x="318.4" y="546.5" font-size="7.5" fill="#111">Myalgia</text>
<text x="318.4" y="559.89" font-size="7.5" fill="#111">Ageusia</text>
<text x="318.4" y="573.27" font-size="7.5" fill="#111">Anosmia</text>
<text x="318.4" y="586.66" font-size="7.5" fill="#111">Headache</text>
<text x="318.4" y="600.05" font-size="7.5" fill="#111">Sleep disorder</text>
<text x="318.4" y="613.43" font-size="7.5" fill="#111">Dizziness</text>
<text x="318.4" y="626.82" font-size="7.5" fill="#111">Fatigue</text>
<text x="318.4" y="640.2" font-size="7.5" fill="#111">Brain fog</text>
<text x="318.4" y="653.59" font-size="7.5" fill="#111">Postexertional malaise</text>
<text x="408.35" y="665.25" font-size="6.35" text-anchor="middle" fill="#111">100</text>
<text x="423.9" y="665.25" font-size="6.35" text-anchor="middle" fill="#111">80</text>
<text x="439.45" y="665.25" font-size="6.35" text-anchor="middle" fill="#111">60</text>
<text x="455.0" y="665.25" font-size="6.35" text-anchor="middle" fill="#111">40</text>
<text x="470.55" y="665.25" font-size="6.35" text-anchor="middle" fill="#111">20</text>
<text x="486.1" y="665.25" font-size="6.35" text-anchor="middle" fill="#111">0</text>
<text x="501.65" y="665.25" font-size="6.35" text-anchor="middle" fill="#111">20</text>
<text x="517.2" y="665.25" font-size="6.35" text-anchor="middle" fill="#111">40</text>
<text x="532.75" y="665.25" font-size="6.35" text-anchor="middle" fill="#111">60</text>
<text x="548.3" y="665.25" font-size="6.35" text-anchor="middle" fill="#111">80</text>
<text x="563.85" y="665.25" font-size="6.35" text-anchor="middle" fill="#111">100</text>
<text x="485.3" y="674.9" font-size="6.45" text-anchor="middle" fill="#111">Percentage (%)</text>
<text transform="translate(305.3,575.7) rotate(-90)" font-size="7.15" font-weight="bold" text-anchor="middle" fill="#111">Neurologic symptoms</text>
<text x="402.6" y="655.29" font-size="7.0" fill="#111" style="stroke-width:0.3px">**</text>
<rect x="450.2" y="679.3" width="4.8" height="4.6" fill="#3f86d0"/>
<text x="457" y="683.4" font-size="6.4" fill="#111">Other-PASC</text>
<rect x="501.2" y="679.3" width="4.8" height="4.6" fill="#d9281e"/>
<text x="508.3" y="683.4" font-size="6.4" fill="#111">Cog-PASC</text>
<line x1="570.65" y1="495.6" x2="570.65" y2="659.0" stroke="#111" stroke-width="0.8"/>
</svg></body></html>
